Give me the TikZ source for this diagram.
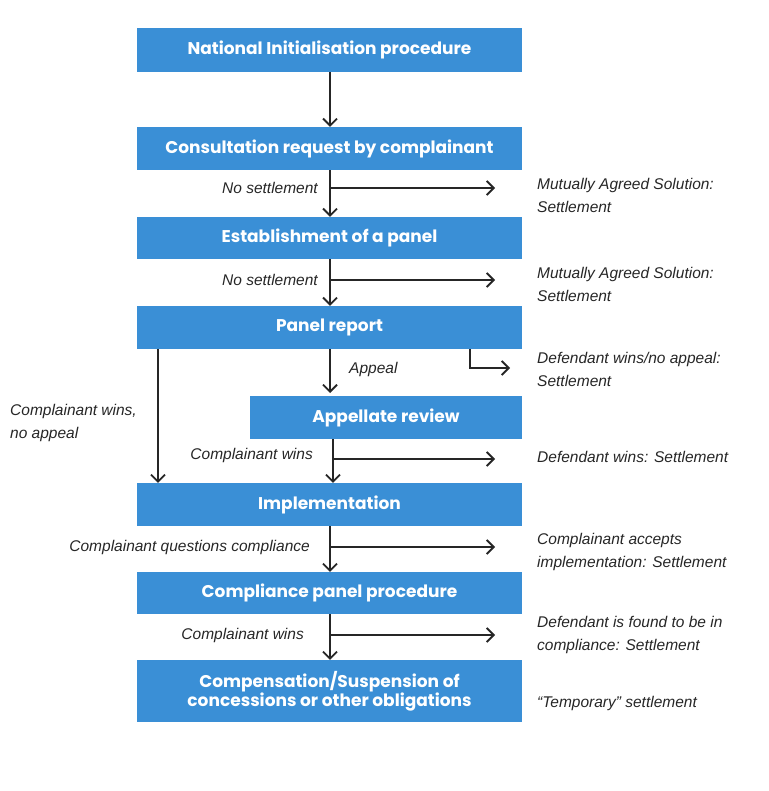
\documentclass[tikz,border=0pt]{standalone}
\usepackage{fontspec}
\setmainfont{Liberation Sans}
\newfontfamily\boxfont{Poppins}
\usetikzlibrary{arrows.meta}
\definecolor{boxblue}{HTML}{3A8FD6}
\begin{document}
\begin{tikzpicture}[x=1pt,y=-1pt,
 box/.style={fill=boxblue,text=white,font=\boxfont\fontsize{17}{19}\selectfont\bfseries,align=center,inner sep=0pt},
 lab/.style={font=\itshape\fontsize{15.5}{23}\selectfont,text=black!85,inner sep=0pt,align=left},
 arr/.style={-{Straight Barb[length=7pt,width=14pt,line width=1.8pt]},line width=2pt,black!85}]
\useasboundingbox (0,0) rectangle (768,791);
\node[box,minimum width=385,minimum height=44] (b1) at (329.5,50) {National Initialisation procedure};
\node[box,minimum width=385,minimum height=43] (b2) at (329.5,148.5) {Consultation request by complainant};
\node[box,minimum width=385,minimum height=42] (b3) at (329.5,238) {Establishment of a panel};
\node[box,minimum width=385,minimum height=43] (b4) at (329.5,327.5) {Panel report};
\node[box,minimum width=272,minimum height=43] (b5) at (386,417.5) {Appellate review};
\node[box,minimum width=385,minimum height=43] (b6) at (329.5,504.5) {Implementation};
\node[box,minimum width=385,minimum height=42] (b7) at (329.5,593) {Compliance panel procedure};
\node[box,minimum width=385,minimum height=62] (b8) at (329.5,691) {Compensation/Suspension of\\concessions or other obligations};
% vertical main arrows
\draw[arr] (b1.south -| 330,0) -- (b2.north -| 330,0);
\draw[arr] (b2.south -| 330,0) -- (b3.north -| 330,0);
\draw[arr] (b3.south -| 330,0) -- (b4.north -| 330,0);
\draw[arr] (b4.south -| 330,0) -- (330,393);
\draw[arr] (b5.south -| 333,0) -- (b6.north -| 333,0);
\draw[arr] (b6.south -| 330,0) -- (b7.north -| 330,0);
\draw[arr] (b7.south -| 330,0) -- (b8.north -| 330,0);
\draw[arr] (b4.south -| 158,0) -- (b6.north -| 158,0);
% branches
\coordinate (h1) at (330,188); \coordinate (e1) at (495,188);
\coordinate (h2) at (330,280); \coordinate (e2) at (495,280);
\coordinate (h4) at (470,368); \coordinate (e4) at (510,368);
\coordinate (h5) at (333,459); \coordinate (e5) at (495,459);
\coordinate (h6) at (330,547); \coordinate (e6) at (495,547);
\coordinate (h7) at (330,635); \coordinate (e7) at (495,635);
\draw[arr] (h1) -- (e1);
\draw[arr] (h2) -- (e2);
\draw[arr] (b4.south -| h4) -- (h4) -- (e4);
\draw[arr] (h5) -- (e5);
\draw[arr] (h6) -- (e6);
\draw[arr] (h7) -- (e7);
% left labels
\node[lab,anchor=east] (l1) at (318,188) {No settlement};
\node[lab,anchor=east] (l2) at (318,280) {No settlement};
\node[lab,anchor=west] (l4) at (349,369) {Appeal};
\node[lab,anchor=east] (l5) at (313,455) {Complainant wins};
\node[lab,anchor=east] (l6) at (310,547) {Complainant questions compliance};
\node[lab,anchor=east] (l7) at (304,635) {Complainant wins};
\node[lab,anchor=north west] (l8) at (10,404) {Complainant wins,\\no appeal};
% right labels
\node[lab,anchor=west] (r1) at (537,195) {Mutually Agreed Solution:\\Settlement};
\node[lab,anchor=west] (r2) at (537,284) {Mutually Agreed Solution:\\Settlement};
\node[lab,anchor=west] (r4) at (537,369) {Defendant wins/no appeal:\\Settlement};
\node[lab,anchor=west] (r5) at (537,457) {Defendant wins: Settlement};
\node[lab,anchor=west] (r6) at (537,552) {Complainant accepts\\implementation: Settlement};
\node[lab,anchor=west] (r7) at (537,635) {Defendant is found to be in\\compliance: Settlement};
\node[lab,anchor=west] (r8) at (537,703) {“Temporary” settlement};
\end{tikzpicture}
\end{document}
